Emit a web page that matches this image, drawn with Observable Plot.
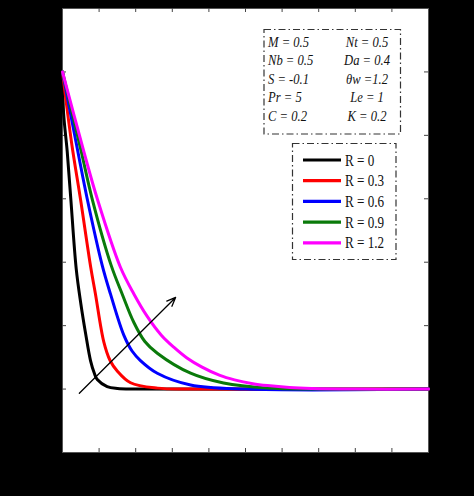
<!DOCTYPE html>
<html>
<head>
<meta charset="utf-8">
<script src="https://cdn.jsdelivr.net/npm/d3@7"></script>
<script src="https://cdn.jsdelivr.net/npm/@observablehq/plot@0.6"></script>
<style>
  html, body { margin: 0; padding: 0; background: #000; }
  #chart { width: 474px; height: 496px; }
</style>
</head>
<body>
<div id="chart"></div>
<script>
// ---- data ----
const seriesLabels = ["R = 0", "R = 0.3", "R = 0.6", "R = 0.9", "R = 1.2"];
const seriesColors = ["#000000", "#ff0000", "#0000ff", "#0a7a0a", "#ff00ff"];

const eta_R0   = [0, 0.03, 0.128, 0.227, 0.374, 0.5, 0.63, 0.765, 0.87, 0.95, 1.22, 1.5, 2.0, 10];
const theta_R0 = [1, 0.87, 0.75, 0.60, 0.38, 0.27, 0.176, 0.09, 0.05, 0.03, 0.008, 0.002, 0, 0];

const eta_R03   = [0, 0.25, 0.49, 0.77, 0.90, 1.13, 1.3, 1.49, 1.86, 2.6, 3.5, 10];
const theta_R03 = [1, 0.775, 0.60, 0.385, 0.30, 0.148, 0.09, 0.058, 0.02, 0.003, 0, 0];

const eta_R06   = [0, 0.418, 0.675, 1.085, 1.31, 1.675, 1.9, 2.13, 2.59, 3.5, 5.0, 10];
const theta_R06 = [1, 0.75, 0.60, 0.39, 0.30, 0.17, 0.12, 0.09, 0.05, 0.013, 0, 0];

const eta_R09   = [0, 0.51, 0.81, 1.33, 1.63, 1.95, 2.25, 2.59, 3.5, 4.4, 5.6, 7.0, 10];
const theta_R09 = [1, 0.75, 0.60, 0.39, 0.30, 0.21, 0.15, 0.113, 0.05, 0.019, 0.003, 0, 0];

const eta_R12   = [0, 0.58, 0.95, 1.58, 1.95, 2.31, 2.7, 3.04, 3.4, 3.8, 4.3, 4.7, 5.2, 5.6, 6.2, 6.8, 8.0, 10];
const theta_R12 = [1, 0.75, 0.60, 0.385, 0.30, 0.23, 0.17, 0.132, 0.098, 0.07, 0.043, 0.029, 0.017, 0.011, 0.005, 0.002, 0, 0];

const etaSeries = [eta_R0, eta_R03, eta_R06, eta_R09, eta_R12];
const thetaSeries = [theta_R0, theta_R03, theta_R06, theta_R09, theta_R12];

const xTicks = [0, 1, 2, 3, 4, 5, 6, 7, 8, 9, 10];
const yTicks = [-0.2, 0, 0.2, 0.4, 0.6, 0.8, 1.0, 1.2];

// arrow showing increasing R
const arrowStart = [0.46, -0.013];
const arrowEnd = [3.09, 0.289];

const paramsLeft  = ["M = 0.5", "Nb = 0.5", "S = -0.1", "Pr = 5", "C = 0.2"];
const paramsRight = ["Nt = 0.5", "Da = 0.4", "θw =1.2", "Le = 1", "K = 0.2"];

// ---- build table ----
const rows = [];
seriesLabels.forEach((lab, i) => {
  etaSeries[i].forEach((e, j) => rows.push({series: lab, eta: e, theta: thetaSeries[i][j]}));
});

const W = 474, H = 496;
const margin = {top: 8, right: 46, bottom: 44, left: 62};
const innerW = W - margin.left - margin.right;
const innerH = H - margin.top - margin.bottom;
const tickLen = 4;

const lineMarks = seriesLabels.map((lab, i) =>
  Plot.line(rows.filter(r => r.series === lab), {
    x: "eta", y: "theta", stroke: seriesColors[i], strokeWidth: 3, curve: "catmull-rom"
  })
);

const inner = (arr) => arr.slice(1, -1);

const chart = Plot.plot({
  width: W,
  height: H,
  marginTop: margin.top,
  marginRight: margin.right,
  marginBottom: margin.bottom,
  marginLeft: margin.left,
  style: {background: "#000", overflow: "visible"},
  x: {domain: [0, 10], axis: null},
  y: {domain: [-0.2, 1.2], axis: null},
  marks: [
    Plot.frame({fill: "white", stroke: "#555"}),
    Plot.tickX(inner(xTicks), {x: d => d, insetTop: innerH - tickLen, stroke: "#444"}),
    Plot.tickX(inner(xTicks), {x: d => d, insetBottom: innerH - tickLen, stroke: "#444"}),
    Plot.tickY(inner(yTicks), {y: d => d, insetRight: innerW - tickLen, stroke: "#444"}),
    Plot.tickY(inner(yTicks), {y: d => d, insetLeft: innerW - tickLen, stroke: "#444"}),
    ...lineMarks,
    Plot.arrow([{x1: arrowStart[0], y1: arrowStart[1], x2: arrowEnd[0], y2: arrowEnd[1]}], {
      x1: "x1", y1: "y1", x2: "x2", y2: "y2", stroke: "black", strokeWidth: 1.3, headLength: 11, headAngle: 45
    })
  ]
});

document.getElementById("chart").appendChild(chart);

// ---- annotation boxes (parameters and legend) ----
const svg = d3.select(chart);
const dashDot = "7,3,1.5,3";
const serif = "Liberation Serif, Times New Roman, serif";

// parameter box
const pg = svg.append("g").attr("text-anchor", "start");
pg.append("rect").attr("x", 264).attr("y", 29.5).attr("width", 136.5).attr("height", 104.5)
  .attr("fill", "white").attr("stroke", "#333").attr("stroke-width", 1.2).attr("stroke-dasharray", dashDot);
const rowY0 = 46.5, rowDy = 18.6;
paramsLeft.forEach((t, i) => {
  pg.append("text").attr("transform", `translate(268,${rowY0 + i * rowDy}) scale(0.84,1)`)
    .attr("text-anchor", "start")
    .attr("font-family", serif).attr("font-style", "italic")
    .attr("font-size", 15).attr("fill", "#111").text(t);
});
paramsRight.forEach((t, i) => {
  pg.append("text").attr("transform", `translate(367,${rowY0 + i * rowDy}) scale(0.84,1)`)
    .attr("text-anchor", "middle")
    .attr("font-family", serif).attr("font-style", "italic")
    .attr("font-size", 15).attr("fill", "#111").text(t);
});

// legend box
const lg = svg.append("g").attr("text-anchor", "start");
lg.append("rect").attr("x", 292.5).attr("y", 143.5).attr("width", 103.5).attr("height", 116)
  .attr("fill", "white").attr("stroke", "#333").attr("stroke-width", 1.2).attr("stroke-dasharray", dashDot);
const legY0 = 160, legDy = 20.7;
seriesLabels.forEach((lab, i) => {
  const y = legY0 + i * legDy;
  lg.append("line").attr("x1", 303).attr("x2", 341).attr("y1", y).attr("y2", y)
    .attr("stroke", seriesColors[i]).attr("stroke-width", 3.2);
  lg.append("text").attr("transform", `translate(345,${y + 5.5}) scale(0.82,1)`)
    .attr("text-anchor", "start")
    .attr("font-family", serif)
    .attr("font-size", 16).attr("fill", "#111").text(lab);
});
</script>
</body>
</html>
